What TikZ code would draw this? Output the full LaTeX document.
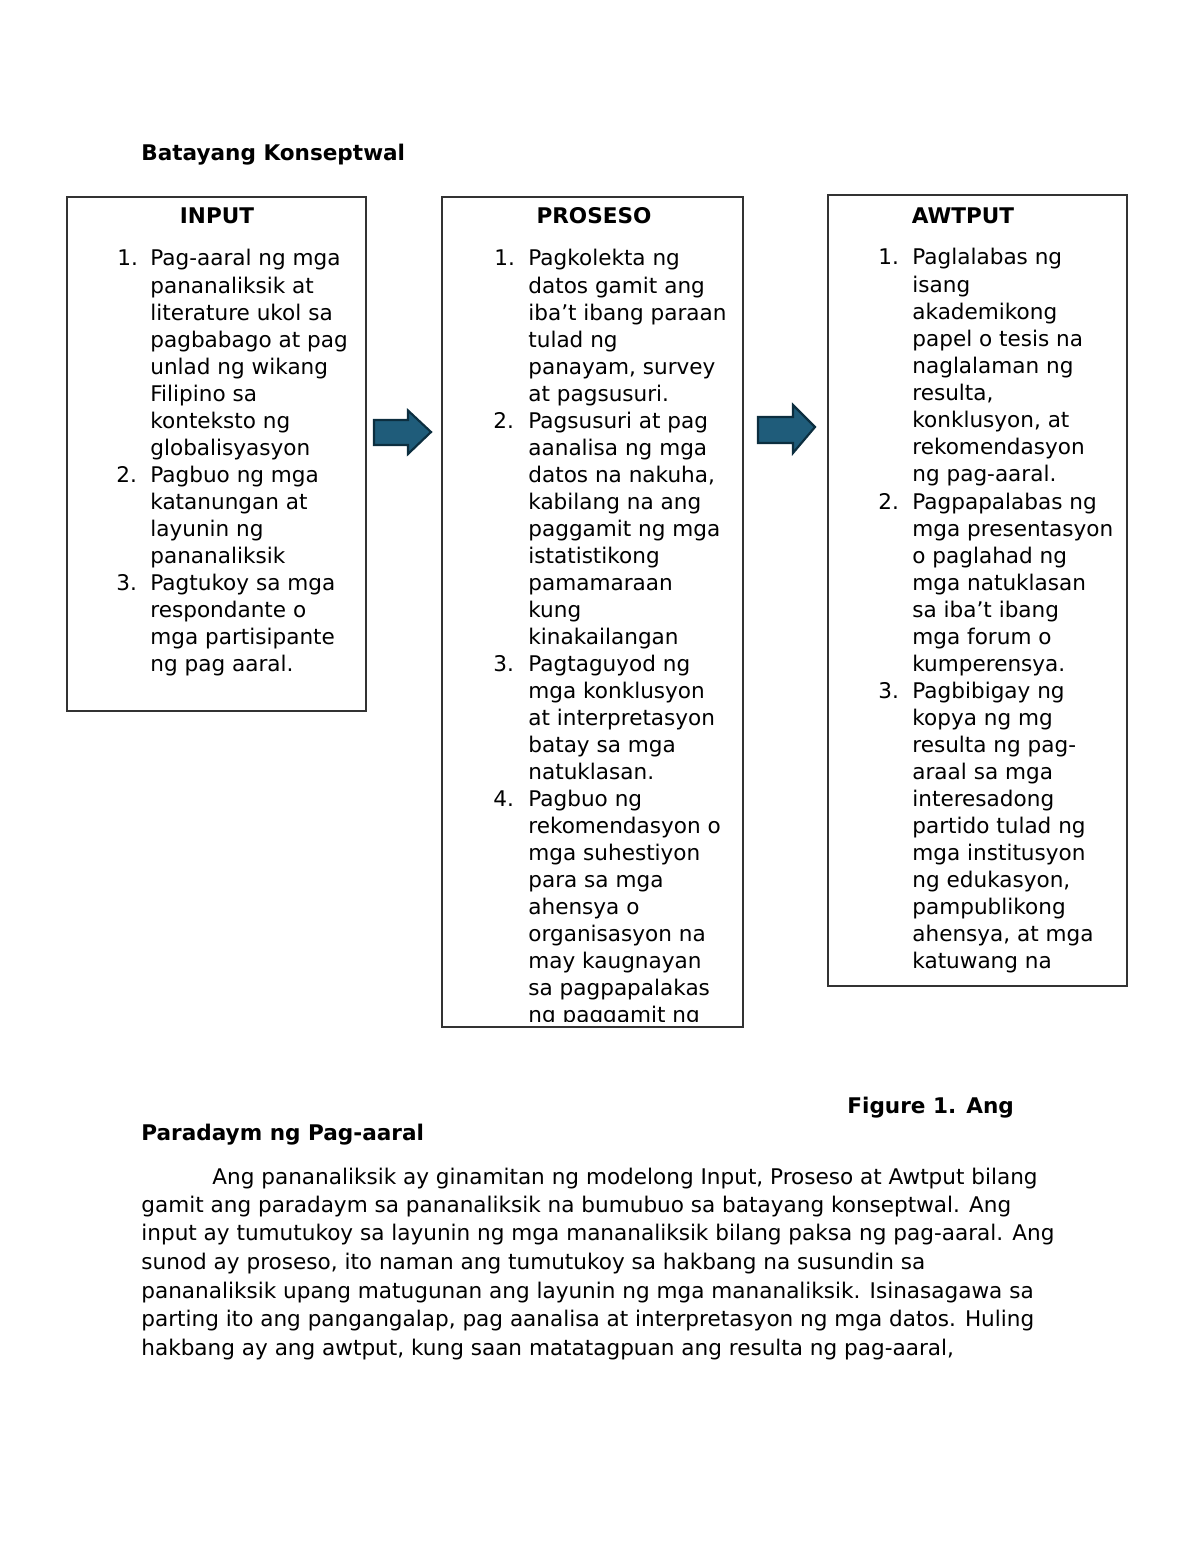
\documentclass[tikz,border=0pt]{standalone}
\usepackage{fontspec}
\setmainfont{DejaVu Sans}
\definecolor{arrowfill}{HTML}{1F5C7A}
\definecolor{arrowline}{HTML}{0C2E3F}
\newcommand\listitem[6]{%
  \node[txt, anchor=base west] (#1-num) at ({#3},{#5}) {#2};
  \foreach \t [count=\k from 0] in {#6}
    \node[txt, anchor=base west] (#1-\k) at ({#4},{#5+27*\k}) {\t};
}
\begin{document}
\begin{tikzpicture}[x=0.51pt, y=-0.51pt,
  txt/.style={inner sep=0pt, font=\fontsize{11pt}{13.8pt}\selectfont},
  bold/.style={inner sep=0pt, font=\fontsize{11pt}{13.8pt}\selectfont\bfseries},
  box/.style={draw=black!80, line width=0.6pt},
  blockarrow/.style={fill=arrowfill, draw=arrowline, line width=1.1pt, line join=miter}]
\useasboundingbox (0,0) rectangle (1200,1553);

% title
\node[bold, anchor=base west] (title) at (141,161) {Batayang Konseptwal};

% boxes
\draw[box] (67,197) rectangle (366,711);
\draw[box] (442,197) rectangle (743,1027);
\draw[box] (828,195) rectangle (1127,986);
\coordinate (inboxR) at (366,432);
\coordinate (prboxL) at (442,432);

% headers
\node[bold, anchor=base] (hin) at (217,224) {INPUT};
\node[bold, anchor=base] (hpr) at (594,224) {PROSESO};
\node[bold, anchor=base] (haw) at (963,224) {AWTPUT};

% INPUT list
\listitem{in1}{1.}{117}{150}{266}{Pag-aaral ng mga,pananaliksik at,literature ukol sa,pagbabago at pag,unlad ng wikang,Filipino sa,konteksto ng,globalisyasyon}
\listitem{in2}{2.}{116}{150}{482}{Pagbuo ng mga,katanungan at,layunin ng,pananaliksik}
\listitem{in3}{3.}{116}{150}{590}{Pagtukoy sa mga,respondante o,mga partisipante,ng pag aaral.}

% PROSESO list (clipped at bottom)
\begin{scope}
\clip (443,198) rectangle (742,1021);
\listitem{pr1}{1.}{494}{528}{266}{Pagkolekta ng,datos gamit ang,iba’t ibang paraan,tulad ng,{panayam, survey},at pagsusuri.}
\listitem{pr2}{2.}{493}{528}{428}{Pagsusuri at pag,aanalisa ng mga,{datos na nakuha,},kabilang na ang,paggamit ng mga,istatistikong,pamamaraan,kung,kinakailangan}
\listitem{pr3}{3.}{493}{528}{671}{Pagtaguyod ng,mga konklusyon,at interpretasyon,batay sa mga,natuklasan.}
\listitem{pr4}{4.}{493}{528}{806}{Pagbuo ng,rekomendasyon o,mga suhestiyon,para sa mga,ahensya o,organisasyon na,may kaugnayan,sa pagpapalakas,ng paggamit ng}
\end{scope}

% AWTPUT list
\listitem{aw1}{1.}{878}{912}{265}{Paglalabas ng,isang,akademikong,papel o tesis na,naglalaman ng,{resulta,},{konklusyon, at},rekomendasyon,ng pag-aaral.}
\listitem{aw2}{2.}{878}{912}{509}{Pagpapalabas ng,mga presentasyon,o paglahad ng,mga natuklasan,sa iba’t ibang,mga forum o,kumperensya.}
\listitem{aw3}{3.}{878}{912}{698}{Pagbibigay ng,kopya ng mg,resulta ng pag-,araal sa mga,interesadong,partido tulad ng,mga institusyon,{ng edukasyon,},pampublikong,{ahensya, at mga},katuwang na}

% block arrows
\draw[blockarrow] (374,420) -- (408,420) -- (408,410.5) -- (431,432) -- (408,454) -- (408,445) -- (374,445) -- cycle;
\draw[blockarrow] (758,417) -- (793,417) -- (793,405) -- (815,427) -- (793,453) -- (793,443) -- (758,443) -- cycle;

% caption
\node[bold, anchor=base west] (fig) at (847,1113) {Figure 1. Ang};
\node[bold, anchor=base west] (parad) at (141,1140) {Paradaym ng Pag-aaral};

% paragraph
\node[txt, anchor=base west] (p1) at (212,1184) {Ang pananaliksik ay ginamitan ng modelong Input, Proseso at Awtput bilang};
\node[txt, anchor=base west] (p2) at (141,1212) {gamit ang paradaym sa pananaliksik na bumubuo sa batayang konseptwal. Ang};
\node[txt, anchor=base west] (p3) at (141,1240) {input ay tumutukoy sa layunin ng mga mananaliksik bilang paksa ng pag-aaral. Ang};
\node[txt, anchor=base west] (p4) at (141,1269) {sunod ay proseso, ito naman ang tumutukoy sa hakbang na susundin sa};
\node[txt, anchor=base west] (p5) at (141,1298) {pananaliksik upang matugunan ang layunin ng mga mananaliksik. Isinasagawa sa};
\node[txt, anchor=base west] (p6) at (141,1326) {parting ito ang pangangalap, pag aanalisa at interpretasyon ng mga datos. Huling};
\node[txt, anchor=base west] (p7) at (141,1355) {hakbang ay ang awtput, kung saan matatagpuan ang resulta ng pag-aaral,};
\end{tikzpicture}
\end{document}
